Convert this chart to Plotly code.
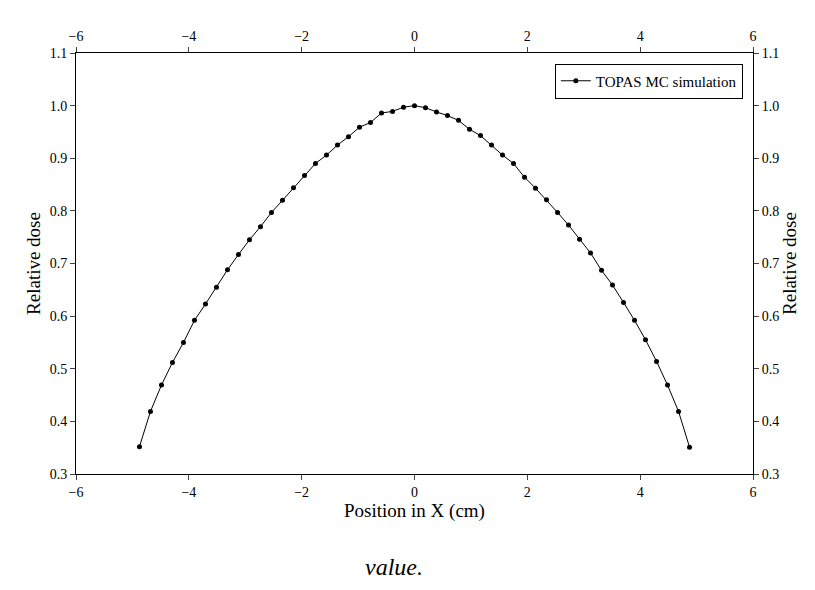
import plotly.graph_objects as go

x_pos = [round(i * 0.195, 3) for i in range(-25, 26)]
dose_left = [0.349, 0.416, 0.466, 0.509, 0.547, 0.589, 0.620, 0.652, 0.685, 0.714, 0.742, 0.767, 0.794,
             0.817, 0.841, 0.864, 0.887, 0.903, 0.922, 0.938, 0.956, 0.965, 0.983, 0.986, 0.994]
dose_peak = [0.997]
dose_right = [0.993, 0.985, 0.978, 0.969, 0.952, 0.940, 0.922, 0.903, 0.887, 0.861, 0.840, 0.818, 0.794,
              0.770, 0.743, 0.717, 0.684, 0.656, 0.623, 0.589, 0.552, 0.511, 0.466, 0.416, 0.348]
dose = [round(v + 0.003, 3) for v in dose_left + dose_peak + dose_right]

font = "Liberation Serif"
fig = go.Figure()
fig.add_trace(go.Scatter(x=x_pos, y=dose, mode="lines+markers", name="TOPAS MC simulation",
                         line=dict(color="black", width=1), marker=dict(color="black", size=5)))
fig.add_trace(go.Scatter(x=[0], y=[0.7], xaxis="x2", yaxis="y2", mode="markers",
                         marker=dict(opacity=0), showlegend=False, hoverinfo="skip"))

ax = dict(showgrid=False, zeroline=False, ticks="outside", ticklen=5, linecolor="black", linewidth=1,
          tickfont=dict(family=font, size=14, color="black"), showline=True)
fig.update_layout(
    width=815, height=590, paper_bgcolor="white", plot_bgcolor="white",
    margin=dict(l=68, r=70, t=45, b=124, autoexpand=False),
    font=dict(family=font, color="black"),
    xaxis=dict(**ax, range=[-6, 6], dtick=2, title=dict(text="Position in X (cm)", font=dict(size=19), standoff=4)),
    yaxis=dict(**ax, range=[0.3, 1.1], dtick=0.1, tickformat=".1f", title=dict(text="Relative dose", font=dict(size=19), standoff=4)),
    xaxis2=dict(**ax, range=[-6, 6], dtick=2, overlaying="x", side="top"),
    yaxis2=dict(**ax, range=[0.3, 1.1], dtick=0.1, tickformat=".1f", overlaying="y", side="right",
                title=dict(text="Relative dose", font=dict(size=19), standoff=4)),
    legend=dict(x=0.985, y=0.975, xanchor="right", yanchor="top", bordercolor="black", borderwidth=1,
                font=dict(family=font, size=15), bgcolor="white"),
    annotations=[dict(text="<i>value.</i>", x=0.47, y=-0.185, xref="paper", yref="paper", showarrow=False,
                      xanchor="center", yanchor="top", font=dict(family=font, size=24))],
)
fig.write_html("out.html")
